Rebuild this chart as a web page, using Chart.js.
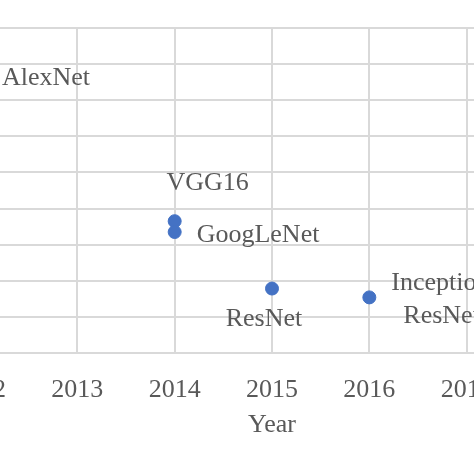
<!DOCTYPE html>
<html>
<head>
<meta charset="utf-8">
<script src="https://cdn.jsdelivr.net/npm/chart.js@4.4.0/dist/chart.umd.min.js"></script>
<style>
  html, body { margin: 0; padding: 0; background: #fff; overflow: hidden; }
  #wrap { position: absolute; left: -68px; top: 0; width: 680px; height: 474px; }
</style>
</head>
<body>
<div id="wrap"><canvas id="chart"></canvas></div>
<script>
// Top-5 error rate (%) by year
const models = ['AlexNet', 'VGG16', 'GoogLeNet', 'ResNet', 'Inception-ResNet'];
const years = [2012, 2014, 2014, 2015, 2016];
const errors = [16.4, 7.3, 6.7, 3.57, 3.08];
// label text lines and placement relative to the point
const labelLines = [['AlexNet'], ['VGG16'], ['GoogLeNet'], ['ResNet'], ['Inception-', 'ResNet']];
const labelOffsets = [[22, 21, 'left'], [33, -38, 'center'], [22, 3, 'left'], [-8, 31, 'center'], [22, -14, 'left']];

const serif = '"Liberation Serif", "Times New Roman", serif';
const textColor = '#595959';

const pointLabels = {
  id: 'pointLabels',
  afterDatasetsDraw(chart) {
    const ctx = chart.ctx;
    const meta = chart.getDatasetMeta(0);
    ctx.save();
    ctx.font = '26px ' + serif;
    ctx.fillStyle = textColor;
    ctx.textBaseline = 'middle';
    meta.data.forEach((pt, i) => {
      const [dx, dy, align] = labelOffsets[i];
      ctx.textAlign = align;
      labelLines[i].forEach((line, j) => {
        const ox = j > 0 ? 12 : 0;
        ctx.fillText(line, pt.x + dx + ox, pt.y + dy + j * 33);
      });
    });
    ctx.restore();
  }
};

new Chart(document.getElementById('chart'), {
  type: 'scatter',
  data: {
    datasets: [{
      data: years.map((y, i) => ({ x: y, y: errors[i] })),
      backgroundColor: '#4472C4',
      borderColor: '#4472C4',
      pointRadius: 6.5,
      pointHoverRadius: 6.5
    }]
  },
  options: {
    responsive: true,
    maintainAspectRatio: false,
    animation: false,
    layout: { padding: { top: 28, right: 16, left: 0, bottom: 0 } },
    plugins: { legend: { display: false }, tooltip: { enabled: false } },
    scales: {
      x: {
        type: 'linear',
        min: 2012,
        max: 2018,
        afterFit: s => { s.height = 121; },
        grid: { color: '#d9d9d9', lineWidth: 2, drawTicks: false },
        border: { color: '#d9d9d9', width: 2 },
        ticks: {
          stepSize: 1,
          padding: 22,
          color: textColor,
          font: { family: serif, size: 26 },
          callback: v => String(v)
        },
        title: {
          display: true,
          text: 'Year',
          color: textColor,
          font: { family: serif, size: 26 },
          padding: { top: 0, bottom: 33 }
        }
      },
      y: {
        min: 0,
        max: 18,
        afterFit: s => { s.width = 0; },
        grid: { color: '#d9d9d9', lineWidth: 2, drawTicks: false },
        border: { display: false },
        ticks: { stepSize: 2, display: false }
      }
    }
  },
  plugins: [pointLabels]
});
</script>
</body>
</html>
